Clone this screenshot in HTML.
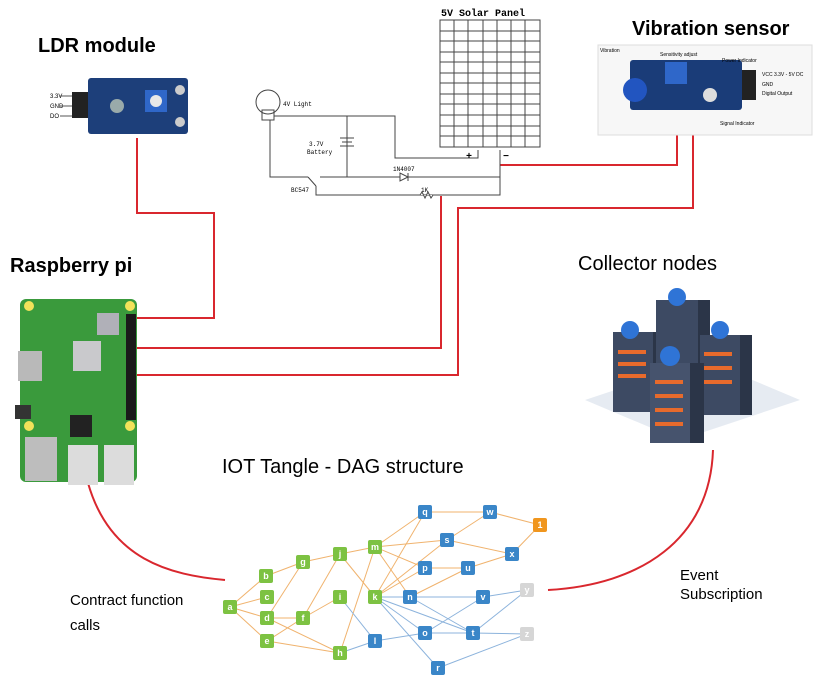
<!DOCTYPE html>
<html><head><meta charset="utf-8"><style>
body{margin:0;background:#fff;width:827px;height:691px;overflow:hidden}
svg{display:block}
.t{font-family:"Liberation Sans",sans-serif}
.m{font-family:"Liberation Mono",monospace}
</style></head><body>
<svg width="827" height="691" viewBox="0 0 827 691" xmlns="http://www.w3.org/2000/svg">
<!-- titles -->
<text class="t" x="38" y="52" font-size="20" font-weight="bold">LDR module</text>
<text class="t" x="632" y="35" font-size="20" font-weight="bold">Vibration sensor</text>
<text class="t" x="10" y="272" font-size="20" font-weight="bold">Raspberry pi</text>
<text class="t" x="578" y="270" font-size="20">Collector nodes</text>
<text class="t" x="222" y="473" font-size="20">IOT Tangle - DAG structure</text>
<text class="t" x="70" y="605" font-size="15">Contract function</text>
<text class="t" x="70" y="630" font-size="15">calls</text>
<text class="t" x="680" y="580" font-size="15">Event</text>
<text class="t" x="680" y="599" font-size="15">Subscription</text>

<!-- red wires -->
<g fill="none" stroke="#d9272e" stroke-width="2">
<polyline points="137,138 137,213 214,213 214,318 137,318"/>
<polyline points="441,196 441,348 137,348"/>
<polyline points="500,165 677,165 677,135"/>
<polyline points="137,375 458,375 458,208 693,208 693,135"/>
<path d="M88,483 C110,560 170,575 225,580"/>
<path d="M713,450 C710,540 640,585 548,590"/>
</g>

<!-- LDR module -->
<rect x="88" y="78" width="100" height="56" rx="3" fill="#1d3f7a"/>
<circle cx="117" cy="106" r="7" fill="#9aa"/>
<rect x="145" y="90" width="22" height="22" fill="#2f67c9"/>
<circle cx="156" cy="101" r="6" fill="#e8e8e8"/>
<rect x="72" y="92" width="16" height="26" fill="#222"/>
<circle cx="180" cy="90" r="5" fill="#ccc"/><circle cx="180" cy="122" r="5" fill="#ccc"/>
<text class="t" x="50" y="98" font-size="6">3.3V</text><text class="t" x="50" y="108" font-size="6">GND</text><text class="t" x="50" y="118" font-size="6">DO</text>
<line x1="60" y1="96" x2="72" y2="96" stroke="#555"/><line x1="60" y1="106" x2="72" y2="106" stroke="#555"/><line x1="60" y1="116" x2="72" y2="116" stroke="#555"/>

<!-- vibration sensor -->
<rect x="598" y="45" width="214" height="90" fill="#f7f7f7" stroke="#ddd"/>
<rect x="630" y="60" width="112" height="50" rx="3" fill="#1a3c78"/>
<circle cx="635" cy="90" r="12" fill="#2255c0"/>
<rect x="665" y="62" width="22" height="22" fill="#2f67c9"/>
<circle cx="710" cy="95" r="7" fill="#ddd"/>
<rect x="742" y="70" width="14" height="30" fill="#222"/>
<text class="t" x="600" y="52" font-size="5">Vibration</text><text class="t" x="660" y="56" font-size="5">Sensitivity adjust</text>
<text class="t" x="722" y="62" font-size="5">Power Indicator</text>
<text class="t" x="762" y="76" font-size="5">VCC 3.3V - 5V DC</text><text class="t" x="762" y="86" font-size="5">GND</text><text class="t" x="762" y="95" font-size="5">Digital Output</text>
<text class="t" x="720" y="125" font-size="5">Signal Indicator</text>

<!-- circuit -->
<g fill="none" stroke="#444" stroke-width="1">
<circle cx="268" cy="102" r="12"/>
<rect x="262" y="110" width="12" height="10"/>
<polyline points="274,116 395,116 395,158 478,158 478,150"/>
<line x1="347" y1="116" x2="347" y2="177"/>
<polyline points="270,120 270,177 308,177"/>
<line x1="320" y1="177" x2="500" y2="177"/>
<polyline points="500,150 500,195 316,195 316,186"/>
<polyline points="308,177 316,186"/>
<path d="M420,195 l2,-3 l3,6 l3,-6 l3,6 l2,-3" fill="#fff"/>
</g>
<line x1="340" y1="138" x2="354" y2="138" stroke="#444"/><line x1="342" y1="142" x2="352" y2="142" stroke="#444"/><line x1="340" y1="146" x2="354" y2="146" stroke="#444"/>
<polygon points="400,173 400,181 408,177" fill="#fff" stroke="#444"/><line x1="408" y1="173" x2="408" y2="181" stroke="#444"/>
<text class="m" x="283" y="106" font-size="6">4V Light</text>
<text class="m" x="309" y="146" font-size="6">3.7V</text><text class="m" x="307" y="154" font-size="6">Battery</text>
<text class="m" x="393" y="171" font-size="6">1N4007</text>
<text class="m" x="291" y="192" font-size="6">BC547</text>
<text class="m" x="421" y="192" font-size="6">1K</text>
<text class="m" x="466" y="159" font-size="10" font-weight="bold">+</text>
<text class="m" x="503" y="159" font-size="10" font-weight="bold">−</text>
<text class="m" x="441" y="16" font-size="10" font-weight="bold">5V Solar Panel</text>
<g stroke="#444" stroke-width="1">
<rect x="440" y="20" width="100" height="127" fill="#fff"/>
<line x1="454" y1="20" x2="454" y2="147"/><line x1="468" y1="20" x2="468" y2="147"/><line x1="483" y1="20" x2="483" y2="147"/><line x1="497" y1="20" x2="497" y2="147"/><line x1="511" y1="20" x2="511" y2="147"/><line x1="525" y1="20" x2="525" y2="147"/>
<line x1="440" y1="31" x2="540" y2="31"/><line x1="440" y1="41" x2="540" y2="41"/><line x1="440" y1="52" x2="540" y2="52"/><line x1="440" y1="62" x2="540" y2="62"/><line x1="440" y1="73" x2="540" y2="73"/><line x1="440" y1="83" x2="540" y2="83"/><line x1="440" y1="94" x2="540" y2="94"/><line x1="440" y1="104" x2="540" y2="104"/><line x1="440" y1="115" x2="540" y2="115"/><line x1="440" y1="126" x2="540" y2="126"/><line x1="440" y1="136" x2="540" y2="136"/>
</g>

<!-- Raspberry pi -->
<rect x="20" y="299" width="117" height="183" rx="6" fill="#3a9a3c"/>
<circle cx="29" cy="306" r="5" fill="#f3e25a"/><circle cx="130" cy="306" r="5" fill="#f3e25a"/>
<circle cx="29" cy="426" r="5" fill="#f3e25a"/><circle cx="130" cy="426" r="5" fill="#f3e25a"/>
<rect x="126" y="314" width="10" height="106" fill="#1a1a1a"/>
<rect x="73" y="341" width="28" height="30" fill="#c9c9cc"/>
<rect x="97" y="313" width="22" height="22" fill="#b0b0b8"/>
<rect x="18" y="351" width="24" height="30" fill="#b9b9b9"/>
<rect x="15" y="405" width="16" height="14" fill="#333"/>
<rect x="70" y="415" width="22" height="22" fill="#222"/>
<rect x="25" y="437" width="32" height="44" fill="#bdbdbd"/>
<rect x="68" y="445" width="30" height="40" fill="#dcdcdc"/>
<rect x="104" y="445" width="30" height="40" fill="#dcdcdc"/>

<!-- Collector nodes -->
<polygon points="585,400 705,360 800,400 680,440" fill="#e6ebf2"/>
<g>
<rect x="613" y="332" width="40" height="80" fill="#3d4a63"/><rect x="653" y="332" width="14" height="80" fill="#2b3548"/>
<rect x="656" y="300" width="42" height="78" fill="#3d4a63"/><rect x="698" y="300" width="12" height="78" fill="#2b3548"/>
<rect x="700" y="335" width="40" height="80" fill="#3d4a63"/><rect x="740" y="335" width="12" height="80" fill="#2b3548"/>
<rect x="650" y="363" width="40" height="80" fill="#46536d"/><rect x="690" y="363" width="14" height="80" fill="#2b3548"/>
<g fill="#e76a2c"><rect x="618" y="350" width="28" height="4"/><rect x="618" y="362" width="28" height="4"/><rect x="618" y="374" width="28" height="4"/><rect x="704" y="352" width="28" height="4"/><rect x="704" y="366" width="28" height="4"/><rect x="704" y="380" width="28" height="4"/><rect x="655" y="380" width="28" height="4"/><rect x="655" y="394" width="28" height="4"/><rect x="655" y="408" width="28" height="4"/><rect x="655" y="422" width="28" height="4"/></g>
<circle cx="630" cy="330" r="9" fill="#2f74d6"/><circle cx="677" cy="297" r="9" fill="#2f74d6"/><circle cx="720" cy="330" r="9" fill="#2f74d6"/><circle cx="670" cy="356" r="10" fill="#2f74d6"/>
</g>

<!-- DAG edges -->
<g stroke="#f0b36e" stroke-width="1" fill="none">
<line x1="490" y1="512" x2="425" y2="512"/><line x1="540" y1="525" x2="490" y2="512"/><line x1="540" y1="525" x2="512" y2="554"/>
<line x1="512" y1="554" x2="447" y2="540"/><line x1="512" y1="554" x2="468" y2="568"/><line x1="468" y1="568" x2="425" y2="568"/>
<line x1="490" y1="512" x2="447" y2="540"/><line x1="425" y1="512" x2="375" y2="547"/><line x1="425" y1="512" x2="375" y2="597"/>
<line x1="447" y1="540" x2="375" y2="547"/><line x1="447" y1="540" x2="375" y2="597"/><line x1="425" y1="568" x2="375" y2="547"/>
<line x1="425" y1="568" x2="375" y2="597"/><line x1="468" y1="568" x2="410" y2="597"/><line x1="375" y1="547" x2="340" y2="554"/>
<line x1="375" y1="547" x2="340" y2="653"/><line x1="375" y1="547" x2="410" y2="597"/><line x1="375" y1="597" x2="340" y2="554"/>
<line x1="340" y1="554" x2="303" y2="562"/><line x1="340" y1="554" x2="303" y2="618"/><line x1="340" y1="597" x2="303" y2="618"/>
<line x1="303" y1="562" x2="266" y2="576"/><line x1="303" y1="562" x2="267" y2="618"/><line x1="303" y1="618" x2="267" y2="618"/>
<line x1="303" y1="618" x2="267" y2="641"/><line x1="340" y1="653" x2="267" y2="618"/><line x1="340" y1="653" x2="267" y2="641"/>
<line x1="266" y1="576" x2="230" y2="607"/><line x1="267" y1="597" x2="230" y2="607"/><line x1="267" y1="618" x2="230" y2="607"/><line x1="267" y1="641" x2="230" y2="607"/>
</g>
<g stroke="#8cb3dc" stroke-width="1" fill="none">
<line x1="410" y1="597" x2="375" y2="597"/><line x1="483" y1="597" x2="410" y2="597"/><line x1="527" y1="590" x2="483" y2="597"/>
<line x1="527" y1="590" x2="473" y2="633"/><line x1="527" y1="634" x2="473" y2="633"/><line x1="527" y1="634" x2="438" y2="668"/>
<line x1="483" y1="597" x2="425" y2="633"/><line x1="473" y1="633" x2="410" y2="597"/><line x1="473" y1="633" x2="425" y2="633"/>
<line x1="473" y1="633" x2="375" y2="597"/><line x1="425" y1="633" x2="375" y2="641"/><line x1="425" y1="633" x2="375" y2="597"/>
<line x1="438" y1="668" x2="375" y2="597"/><line x1="375" y1="641" x2="340" y2="597"/><line x1="375" y1="641" x2="340" y2="653"/>
</g>
<!-- DAG nodes -->
<g class="t" font-size="9" font-weight="bold" fill="#fff" text-anchor="middle">
<g fill="#7dc242">
<rect x="223" y="600" width="14" height="14" rx="2"/><rect x="259" y="569" width="14" height="14" rx="2"/><rect x="260" y="590" width="14" height="14" rx="2"/>
<rect x="260" y="611" width="14" height="14" rx="2"/><rect x="260" y="634" width="14" height="14" rx="2"/><rect x="296" y="555" width="14" height="14" rx="2"/>
<rect x="296" y="611" width="14" height="14" rx="2"/><rect x="333" y="547" width="14" height="14" rx="2"/><rect x="333" y="590" width="14" height="14" rx="2"/>
<rect x="333" y="646" width="14" height="14" rx="2"/><rect x="368" y="540" width="14" height="14" rx="2"/><rect x="368" y="590" width="14" height="14" rx="2"/>
</g>
<g fill="#3a86c8">
<rect x="368" y="634" width="14" height="14" rx="2"/><rect x="418" y="505" width="14" height="14" rx="2"/><rect x="440" y="533" width="14" height="14" rx="2"/>
<rect x="418" y="561" width="14" height="14" rx="2"/><rect x="403" y="590" width="14" height="14" rx="2"/><rect x="418" y="626" width="14" height="14" rx="2"/>
<rect x="431" y="661" width="14" height="14" rx="2"/><rect x="483" y="505" width="14" height="14" rx="2"/><rect x="461" y="561" width="14" height="14" rx="2"/>
<rect x="476" y="590" width="14" height="14" rx="2"/><rect x="466" y="626" width="14" height="14" rx="2"/><rect x="505" y="547" width="14" height="14" rx="2"/>
</g>
<rect x="533" y="518" width="14" height="14" rx="2" fill="#f0961e"/>
<rect x="520" y="583" width="14" height="14" rx="2" fill="#d6d6d6"/><rect x="520" y="627" width="14" height="14" rx="2" fill="#d6d6d6"/>
<text x="230" y="610">a</text><text x="266" y="579">b</text><text x="267" y="600">c</text><text x="267" y="621">d</text><text x="267" y="644">e</text>
<text x="303" y="565">g</text><text x="303" y="621">f</text><text x="340" y="557">j</text><text x="340" y="600">i</text><text x="340" y="656">h</text>
<text x="375" y="550">m</text><text x="375" y="600">k</text><text x="375" y="644">l</text><text x="425" y="515">q</text><text x="447" y="543">s</text>
<text x="425" y="571">p</text><text x="410" y="600">n</text><text x="425" y="636">o</text><text x="438" y="671">r</text><text x="490" y="515">w</text>
<text x="468" y="571">u</text><text x="483" y="600">v</text><text x="473" y="636">t</text><text x="512" y="557">x</text><text x="540" y="528">1</text>
<text x="527" y="593">y</text><text x="527" y="637">z</text>
</g>
</svg>
</body></html>
